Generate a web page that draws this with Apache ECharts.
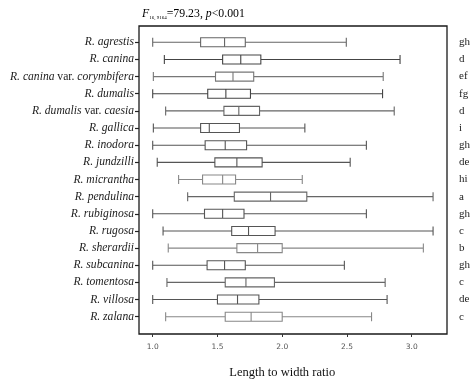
<!DOCTYPE html>
<html><head><meta charset="utf-8">
<script src="https://cdn.jsdelivr.net/npm/echarts@6/dist/echarts.min.js"></script>
<style>html,body{margin:0;padding:0;background:#fff}#c{width:474px;height:391px}</style>
</head><body><div id="c"></div>
<script>
const species = ['R. agrestis','R. canina','R. canina var. corymbifera','R. dumalis','R. dumalis var. caesia','R. gallica','R. inodora','R. jundzilli','R. micrantha','R. pendulina','R. rubiginosa','R. rugosa','R. sherardii','R. subcanina','R. tomentosa','R. villosa','R. zalana'];
const letters = ['gh','d','ef','fg','d','i','gh','de','hi','a','gh','c','b','gh','c','de','c'];
const minVals = [1.00,1.09,1.005,1.00,1.10,1.005,1.00,1.035,1.20,1.27,1.00,1.08,1.12,1.00,1.11,1.00,1.10];
const q1Vals  = [1.37,1.54,1.485,1.425,1.55,1.37,1.405,1.48,1.385,1.63,1.40,1.61,1.65,1.42,1.56,1.50,1.56];
const medVals = [1.555,1.68,1.62,1.565,1.665,1.437,1.56,1.65,1.54,1.91,1.54,1.74,1.81,1.555,1.72,1.655,1.76];
const q3Vals  = [1.715,1.835,1.78,1.755,1.825,1.67,1.725,1.845,1.64,2.19,1.705,1.945,2.00,1.715,1.94,1.82,2.00];
const maxVals = [2.495,2.91,2.78,2.775,2.865,2.175,2.65,2.525,2.155,3.165,2.65,3.165,3.09,2.48,2.795,2.81,2.69];
const xTickLabels = ['1.0','1.5','2.0','2.5','3.0'];

const boxColors = ['#666','#444','#777','#444','#666','#555','#555','#555','#888','#666','#555','#555','#888','#555','#666','#555','#888'];

function speciesLabel(name){
  const parts = name.split(' var. ');
  if (parts.length === 2) return '{i|' + parts[0] + '}{n| var. }{i|' + parts[1] + '}';
  return '{i|' + name + '}';
}

const chart = echarts.init(document.getElementById('c'), null, {renderer:'canvas'});
chart.setOption({
  animation: false,
  backgroundColor: '#fff',
  grid: [
    {left: 139, right: 27, top: 26, bottom: 57, show: true, borderColor: '#1a1a1a', borderWidth: 1.3, backgroundColor: 'transparent'},
    {left: 152.7, right: 62.3, top: 33.7, bottom: 65.7}
  ],
  xAxis: [
    {gridIndex: 0, type: 'value', min: 0, max: 1, show: false},
    {gridIndex: 1, type: 'value', min: 1, max: 3, interval: 0.5, offset: 8.7,
     axisLine: {show: false},
     axisTick: {show: true, length: 3, lineStyle: {color: '#333'}},
     splitLine: {show: false},
     axisLabel: {fontSize: 7.5, color: '#555', margin: 9, fontFamily: 'DejaVu Sans',
       formatter: function(v){ const s = v.toFixed(1); return xTickLabels.indexOf(s) >= 0 ? s : ''; }},
     name: 'Length to width ratio', nameLocation: 'middle', nameGap: 32,
     nameTextStyle: {fontFamily: 'Liberation Serif', fontSize: 12.5, color: '#111'}
    }
  ],
  yAxis: [
    {gridIndex: 0, type: 'value', min: 0, max: 1, show: false},
    {gridIndex: 1, type: 'category', data: species, inverse: true, offset: 13.7,
     axisLine: {show: false},
     axisTick: {show: true, length: 4, alignWithLabel: true, lineStyle: {color: '#222', width: 1.2}},
     axisLabel: {margin: 5, formatter: speciesLabel, interval: 0,
       rich: {
         i: {fontFamily: 'Liberation Serif', fontStyle: 'italic', fontSize: 11.6, color: '#222'},
         n: {fontFamily: 'Liberation Serif', fontSize: 11.6, color: '#222'}
       }}
    },
    {gridIndex: 1, type: 'category', data: letters, inverse: true, position: 'right', offset: 35.3,
     axisLine: {show: false}, axisTick: {show: false},
     axisLabel: {interval: 0, margin: 12, align: 'left', fontFamily: 'Liberation Serif', fontSize: 11, color: '#222'}
    }
  ],
  graphic: [
    {type: 'text', left: 142, top: 7.5, silent: true,
     style: {
       text: '{f|F}{s|16, 9164}{n|=79.23, }{f|p}{n|<0.001}',
       rich: {
         f: {fontFamily: 'Liberation Serif', fontStyle: 'italic', fontSize: 11.8, color: '#111', lineHeight: 14},
         s: {fontFamily: 'Liberation Serif', fontSize: 5, color: '#111', verticalAlign: 'bottom', lineHeight: 10},
         n: {fontFamily: 'Liberation Serif', fontSize: 11.8, color: '#111', lineHeight: 14}
       }
     }}
  ],
  series: [{
    type: 'boxplot',
    xAxisIndex: 1, yAxisIndex: 1,
    boxWidth: [9, 9],
    itemStyle: {color: '#fff', borderWidth: 1.1},
    data: species.map((s, i) => ({
      value: [minVals[i], q1Vals[i], medVals[i], q3Vals[i], maxVals[i]],
      itemStyle: {borderColor: boxColors[i]}
    }))
  }]
});
</script></body></html>
